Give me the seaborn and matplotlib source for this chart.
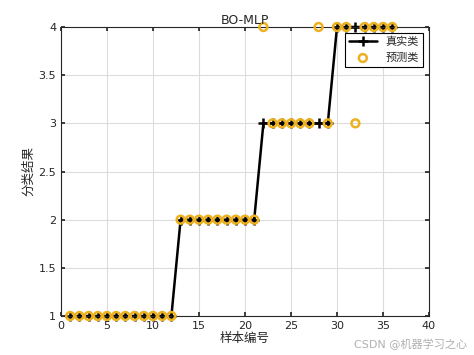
import numpy as np
import pandas as pd
import seaborn as sns
import matplotlib.pyplot as plt

# sample index and classes
sample = list(range(1, 37))
true_cls = [1]*12 + [2]*9 + [3]*8 + [4]*7
pred_cls = [1]*12 + [2]*9 + [4, 3, 3, 3, 3, 3, 4, 3] + [4, 4, 3, 4, 4, 4, 4]

df = pd.DataFrame({"sample": sample, "true": true_cls, "pred": pred_cls})

sns.set_theme(style="ticks")
plt.rcParams['font.family'] = ['DejaVu Sans', 'Noto Sans CJK SC']
plt.rcParams['xtick.direction'] = 'in'
plt.rcParams['ytick.direction'] = 'in'

fig = plt.figure(figsize=(4.74, 3.55), dpi=100)
ax = fig.add_axes([61/474, 1-316/355, (429-61)/474, (316-27)/355])

sns.lineplot(data=df, x="sample", y="true", ax=ax, color="black", linewidth=1.8,
             marker="+", markersize=7, markeredgewidth=1.8, markeredgecolor="black",
             label="真实类", clip_on=False)
sns.scatterplot(data=df, x="sample", y="pred", ax=ax, marker="o", s=32,
                facecolor="none", edgecolor="#EDB120", linewidth=1.8, label="预测类",
                zorder=3, clip_on=False)

ax.set_xlim(0, 40)
ax.set_ylim(1, 4)
ax.set_xticks(np.arange(0, 41, 5))
ax.set_yticks(np.arange(1, 4.01, 0.5))
ax.set_yticklabels(["1", "1.5", "2", "2.5", "3", "3.5", "4"])
ax.grid(True, color="#dcdcdc", linewidth=0.8)
ax.tick_params(labelsize=8, colors="#262626", top=True, right=True, length=3)
for s in ax.spines.values():
    s.set_color("#262626")
    s.set_linewidth(0.8)
    s.set_visible(True)

ax.set_title("BO-MLP", fontsize=9, pad=2)
ax.set_xlabel("样本编号", fontsize=9, family=['Noto Sans CJK SC'], labelpad=1)
ax.set_ylabel("分类结果", fontsize=9, family=['Noto Sans CJK SC'], labelpad=2)

leg = ax.legend(loc="upper right", frameon=True, fancybox=False,
                edgecolor="black", framealpha=1, borderaxespad=0.5, handlelength=2.5,
                prop={'family': ['Noto Sans CJK SC'], 'size': 8})
leg.get_frame().set_linewidth(0.8)

fig.text(0.985, 0.015, "CSDN @机器学习之心", ha="right", va="bottom",
         fontsize=8, color="#b0b0b0", family=['DejaVu Sans', 'Noto Sans CJK SC'])

fig.savefig("out.png", dpi=100)
